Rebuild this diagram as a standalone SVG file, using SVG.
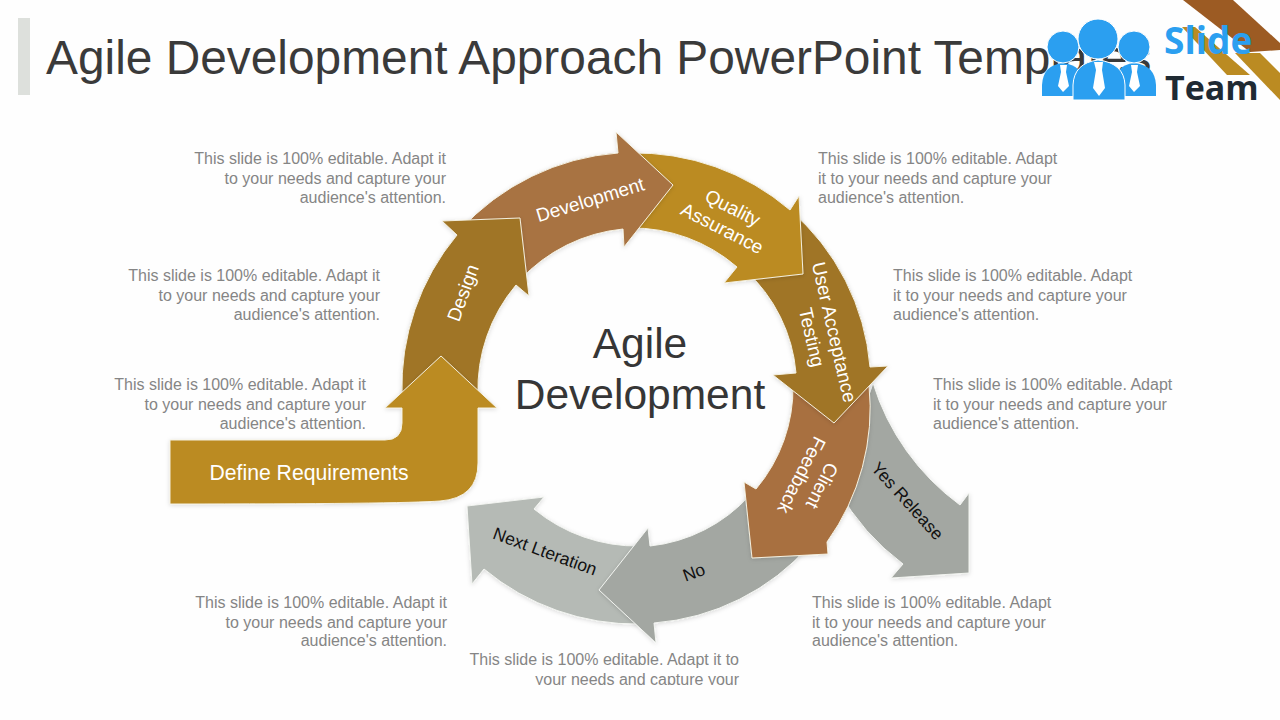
<svg xmlns="http://www.w3.org/2000/svg" width="1280" height="720" viewBox="0 0 1280 720">
<defs>
<style>
text{font-family:"Liberation Sans",Arial,sans-serif}
.arrow{stroke:#f4f0e0;stroke-width:1;stroke-linejoin:miter;filter:url(#sh)}
.gr{stroke:#f2f4f0}
.lab{font-size:19px;fill:#fff;text-anchor:middle}
.blk{fill:#111;font-size:17.500px}
.note{font-size:16px;fill:#858585}
.r{text-anchor:end}
.blue{fill:#2b9ff0}
.tie{fill:#fff}
</style>
<filter id="sh" x="-10%" y="-10%" width="120%" height="120%"><feDropShadow dx="0" dy="1" stdDeviation="2" flood-color="#000" flood-opacity="0.14"/></filter>
<clipPath id="cut"><rect x="440" y="640" width="320" height="45"/></clipPath>
</defs>
<rect width="1280" height="720" fill="#fefefe"/>
<rect id="title-bar" x="18" y="18" width="12" height="77" fill="#dde0dc"/>
<text id="title" x="46" y="74" font-size="47.850" fill="#3a3a3a">Agile Development Approach PowerPoint Templates</text>

<g id="logo">
<polygon points="1183,0 1233,0 1280,43 1280,50 1250,52" fill="#9c5b23"/>
<polygon points="1182,27 1195,27 1250,75 1227,75" fill="#bb8b22"/>
<polygon points="1235,53 1260,53 1280,73 1280,100" fill="#bb8b22"/>
<path class="blue" d="M1042,96V85Q1043,65 1063,63Q1083,65 1084,85V96Z"/>
<path class="blue" d="M1114,96V85Q1115,65 1134,63Q1155,65 1156,85V96Z"/>
<circle class="blue" cx="1063" cy="47" r="16" stroke="#fff"/>
<circle class="blue" cx="1134" cy="47" r="16" stroke="#fff"/>
<polygon class="tie" points="1060,65 1067,65 1066,72 1069,86 1063,92 1058,86 1061,72"/>
<polygon class="tie" points="1131,65 1138,65 1137,72 1140,86 1134,92 1129,86 1132,72"/>
<path class="blue" stroke="#fff" d="M1073,100V85Q1074,63 1098,60Q1124,63 1125,85V100Z"/>
<circle class="blue" cx="1098" cy="39" r="20" stroke="#fff"/>
<polygon class="tie" points="1094,62 1103,62 1102,70 1105,88 1099,96 1093,88 1096,70"/>
<text x="1164" y="54" font-size="37" font-weight="700" fill="#2b9ff0" style="font-family:'Open Sans',sans-serif">Slide</text>
<text x="1165" y="100" font-size="34" font-weight="700" fill="#1f2a33" style="font-family:'Open Sans',sans-serif">Team</text>
</g>

<g id="yes-release">
<path class="arrow gr" fill="#a3a7a2" d="M873,383A238,238 0 0 0 960,505L969,493V573L891,578L903,564A238,238 0 0 1 838,490Z"/>
<text class="lab blk" transform="translate(903,505) rotate(48)">Yes Release</text>
</g>
<g id="next-iteration">
<path class="arrow gr" fill="#b5bab5" d="M640,624A238,238 0 0 1 484,569L472,584L467,506L544,497L534,509A162,162 0 0 0 640,546Z"/>
<text class="lab blk" transform="translate(543,557) rotate(20)">Next Lteration</text>
</g>
<g id="no">
<path class="arrow gr" fill="#a3a7a2" d="M810,545A232,232 0 0 1 654,623L656,643L599,590L648,528L650,546A157,157 0 0 0 750,495Z"/>
<text class="lab blk" transform="translate(696,578) rotate(-20)">No</text>
</g>
<g id="client-feedback">
<path class="arrow" fill="#a87040" d="M869,385A230,230 0 0 1 827,542L828,554L752,558L744,482L756,489A157,157 0 0 0 793,385Z"/>
<text class="lab" transform="translate(811,480) rotate(117)"><tspan x="0" y="-6">Client</tspan><tspan x="0" y="17">Feedback</tspan></text>
</g>
<g id="user-acceptance-testing">
<path class="arrow" fill="#a07526" d="M790,210A232,232 0 0 1 870,367L888,366L834,423L773,375L796,373A157,157 0 0 0 745,270Z"/>
<text class="lab" transform="translate(822,335) rotate(77)"><tspan x="0" y="-6">User Acceptance</tspan><tspan x="0" y="17">Testing</tspan></text>
</g>
<g id="quality-assurance">
<path class="arrow" fill="#bb8b22" d="M630,153A238,238 0 0 1 790,210L799,196L803,274L724,283L737,267A160,160 0 0 0 630,228Z"/>
<text class="lab" transform="translate(727,219) rotate(27)"><tspan x="0" y="-6">Quality</tspan><tspan x="0" y="17">Assurance</tspan></text>
</g>
<g id="development">
<path class="arrow" fill="#a87342" d="M460,230A238,238 0 0 1 618,153L616,132L673,185L624,247L623,229A162,162 0 0 0 520,280Z"/>
<text class="lab" transform="translate(592,206) rotate(-17)">Development</text>
</g>
<g id="design">
<path class="arrow" fill="#a07526" d="M402,395A238,238 0 0 1 457,235L442,221L520,218L529,296L516,285A162,162 0 0 0 478,395Z"/>
<text class="lab" transform="translate(469,295) rotate(-70)">Design</text>
</g>
<g id="define-requirements">
<path class="arrow" fill="#bb8b22" d="M170,440H385Q402,440 402,423V408H385L441,356L497,408H478V463Q478,498 440,501Q400,504 170,504Z"/>
<text class="lab" style="font-size:21.200px" x="309" y="480">Define Requirements</text>
</g>

<g id="center-label" font-size="42.500" fill="#363636" text-anchor="middle">
<text x="640" y="358">Agile</text>
<text x="640" y="409">Development</text>
</g>

<g id="notes">
<text class="note r"><tspan x="446" y="164">This slide is 100% editable. Adapt it</tspan><tspan x="446" y="183.500">to your needs and capture your</tspan><tspan x="446" y="203">audience's attention.</tspan></text>
<text class="note r"><tspan x="380" y="281">This slide is 100% editable. Adapt it</tspan><tspan x="380" y="300.500">to your needs and capture your</tspan><tspan x="380" y="320">audience's attention.</tspan></text>
<text class="note r"><tspan x="366" y="390">This slide is 100% editable. Adapt it</tspan><tspan x="366" y="409.500">to your needs and capture your</tspan><tspan x="366" y="429">audience's attention.</tspan></text>
<text class="note"><tspan x="818" y="164">This slide is 100% editable. Adapt</tspan><tspan x="818" y="183.500">it to your needs and capture your</tspan><tspan x="818" y="203">audience's attention.</tspan></text>
<text class="note"><tspan x="893" y="281">This slide is 100% editable. Adapt</tspan><tspan x="893" y="300.500">it to your needs and capture your</tspan><tspan x="893" y="320">audience's attention.</tspan></text>
<text class="note"><tspan x="933" y="390">This slide is 100% editable. Adapt</tspan><tspan x="933" y="409.500">it to your needs and capture your</tspan><tspan x="933" y="429">audience's attention.</tspan></text>
<text class="note"><tspan x="812" y="608">This slide is 100% editable. Adapt</tspan><tspan x="812" y="627.500">it to your needs and capture your</tspan><tspan x="812" y="646">audience's attention.</tspan></text>
<text class="note r"><tspan x="447" y="608">This slide is 100% editable. Adapt it</tspan><tspan x="447" y="627.500">to your needs and capture your</tspan><tspan x="447" y="646">audience's attention.</tspan></text>
<text class="note r" clip-path="url(#cut)"><tspan x="739" y="665">This slide is 100% editable. Adapt it to</tspan><tspan x="739" y="684.500">your needs and capture your</tspan></text>
</g>
</svg>
